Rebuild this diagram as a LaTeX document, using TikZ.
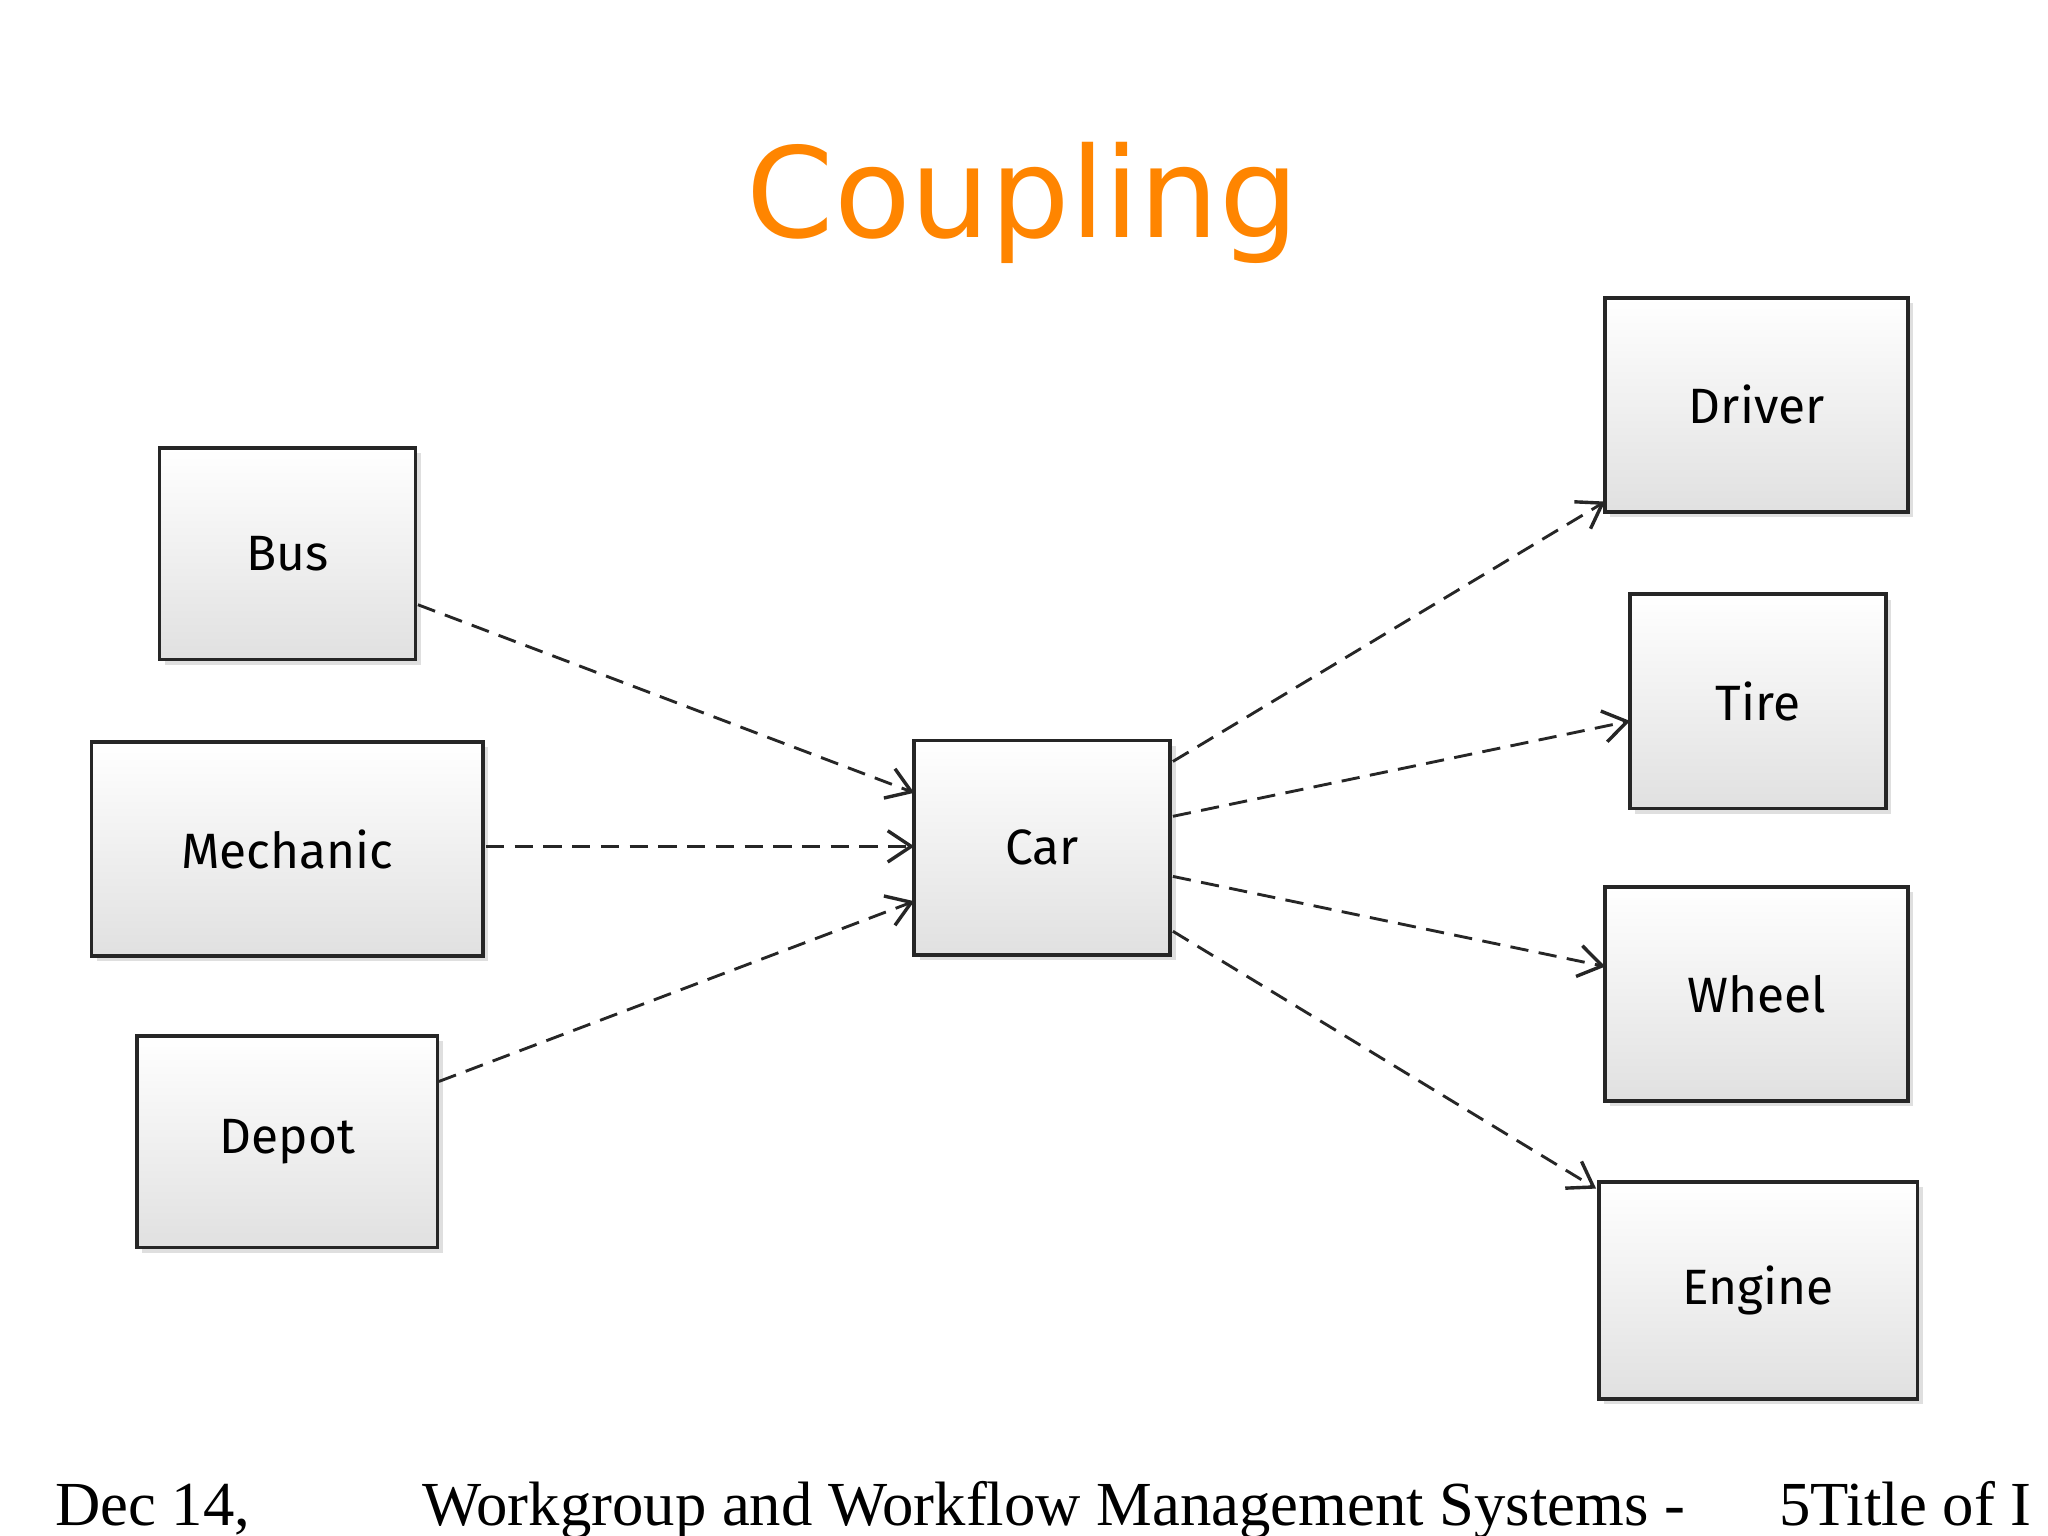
\documentclass[tikz,border=0pt]{standalone}
\usepackage{fontspec}
\setmainfont{Liberation Serif}
\newfontfamily\titlefont{DejaVu Sans}
\newfontfamily\boxfont{Fira Sans}
\usetikzlibrary{arrows.meta,shadows}
\begin{document}
\begin{tikzpicture}[x=0.5pt,y=-0.5pt,
  box/.style={draw=black!85,line width=1.4pt,top color=white,bottom color=black!12,
    drop shadow={shadow xshift=2pt,shadow yshift=-2pt,opacity=0.25},
    font=\boxfont\fontsize{19}{22}\selectfont,inner sep=0pt},
  dep/.style={dashed,dash pattern=on 7pt off 4pt,line width=1.1pt,black!85,
    -{Straight Barb[length=9pt,width=12pt,line width=1.3pt]}}]
\useasboundingbox (0,0) rectangle (1568,1176);
\fill[white] (0,0) rectangle (1568,1176);
\node[text=orange!90!yellow!95!red,font=\titlefont\fontsize{48}{56}\selectfont] (title) at (783,155) {Coupling};
\node[box,minimum width=98pt,minimum height=81pt] (bus) at (220,424) {Bus};
\node[box,minimum width=150pt,minimum height=82pt] (mech) at (220,650) {Mechanic};
\node[box,minimum width=115pt,minimum height=81pt] (depot) at (220,874) {Depot};
\node[box,minimum width=98pt,minimum height=82pt] (car) at (798,649) {Car};
\node[box,minimum width=116pt,minimum height=82pt] (driver) at (1345,310) {Driver};
\node[box,minimum width=98pt,minimum height=82pt] (tire) at (1346,537) {Tire};
\node[box,minimum width=116pt,minimum height=82pt] (wheel) at (1345,761) {Wheel};
\node[box,minimum width=122pt,minimum height=83pt] (engine) at (1346,988) {Engine};
\coordinate (b1) at (320,463); \coordinate (c1) at (700,607);
\coordinate (m1) at (372,648); \coordinate (c2) at (700,648);
\coordinate (d1) at (336,828); \coordinate (c3) at (700,690);
\coordinate (o1) at (898,583); \coordinate (dr) at (1229,384);
\coordinate (o2) at (898,625); \coordinate (ti) at (1248,552);
\coordinate (o3) at (898,671); \coordinate (wh) at (1229,740);
\coordinate (o4) at (898,713); \coordinate (en) at (1222,910);
\draw[dep] (b1) -- (c1);
\draw[dep] (m1) -- (c2);
\draw[dep] (d1) -- (c3);
\draw[dep] (o1) -- (dr);
\draw[dep] (o2) -- (ti);
\draw[dep] (o3) -- (wh);
\draw[dep] (o4) -- (en);
\node[anchor=base west,font=\fontsize{24}{28}\selectfont,inner sep=0pt] (date) at (42,1168) {Dec 14,};
\node[anchor=base west,font=\fontsize{24}{28}\selectfont,inner sep=0pt] (foot) at (323,1168) {Workgroup and Workflow Management Systems -};
\node[anchor=base west,font=\fontsize{24}{28}\selectfont,inner sep=0pt] (num) at (1362,1168) {5Title of I};
\end{tikzpicture}
\end{document}
